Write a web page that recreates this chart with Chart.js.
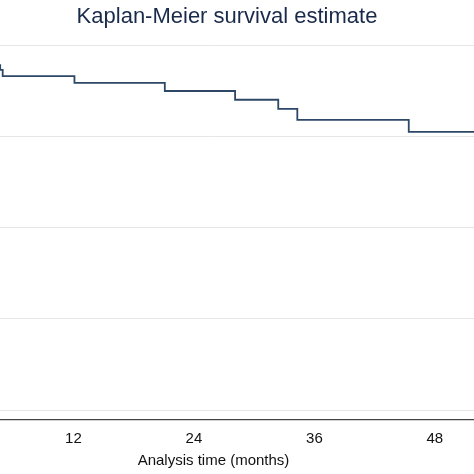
<!DOCTYPE html>
<html><head><script src="https://cdn.jsdelivr.net/npm/chart.js@4"></script>
<style>body{margin:0;overflow:hidden;background:#fff}#w{position:absolute;left:-60px;top:0;width:534px;height:474px}
#t{position:absolute;left:0;top:3px;width:454px;text-align:center;font-family:'Liberation Sans',Arial,sans-serif;font-size:22px;color:#1a2a4a;z-index:2}</style></head>
<body><div id="t">Kaplan-Meier survival estimate</div><div id="w"><canvas id="c"></canvas></div>
<script>
const times=[0,4.7,4.95,12.1,21.1,28.1,32.4,34.3,45.4,47.4,51.9];
const surv=[1,0.945,0.932,0.915,0.896,0.874,0.85,0.825,0.795,0.762,0.762];
const xTicks=[12,24,36,48];
const yTicks=[0,0.25,0.5,0.75,1];
new Chart(document.getElementById('c'),{type:'line',
data:{datasets:[{data:times.map((t,i)=>({x:t,y:surv[i]})),stepped:'after',borderColor:'#2c4866',borderWidth:1.8,pointRadius:0,fill:false}]},
options:{responsive:true,maintainAspectRatio:false,animation:false,
layout:{padding:{left:13,right:0,top:45,bottom:4}},
plugins:{legend:{display:false},tooltip:{enabled:false},title:{display:false}},
scales:{
x:{type:'linear',min:0,max:51.9,afterBuildTicks:s=>{s.ticks=xTicks.map(v=>({value:v}))},
grid:{display:false,drawTicks:true,tickLength:6},border:{color:'#444',width:1.3},
ticks:{color:'#111',font:{family:'Liberation Sans',size:15},padding:4},
title:{display:true,text:'Analysis time (months)',color:'#111',font:{family:'Liberation Sans',size:15},padding:{top:0,bottom:0}}},
y:{min:-0.027,max:1,afterBuildTicks:s=>{s.ticks=yTicks.map(v=>({value:v}))},
ticks:{display:false},grid:{color:'#e6e6e6',drawTicks:false},border:{display:false}}}}});
</script></body></html>
